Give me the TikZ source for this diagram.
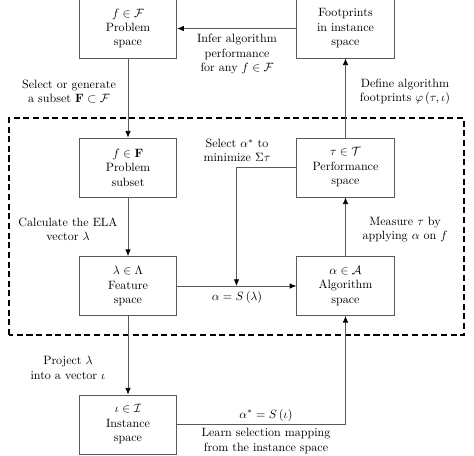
\documentclass[tikz,border=0pt]{standalone}
\usepackage{amsmath}
\usepackage{tikz}
\usetikzlibrary{arrows.meta}

\tikzset{
    box/.style={draw=black!65, line width=0.6pt, align=center, minimum width=81pt, minimum height=49pt, inner sep=1pt},
    arr/.style={draw=black!65, line width=0.6pt, -{Latex[length=5.5pt, width=4.5pt, color=black]}},
    lbl/.style={align=center, inner sep=1pt}
}

\begin{document}
\begin{tikzpicture}[x=0.83pt, y=0.83pt]

    \useasboundingbox (0,0) rectangle (474,455);

    % boxes
    \node[box] (prob) at (128,426.5) {$f\in\mathcal{F}$\\Problem\\space};
    \node[box] (foot) at (345.5,426.5) {Footprints\\in instance\\space};
    \node[box] (sub)  at (128,287.5) {$f\in\mathbf{F}$\\Problem\\subset};
    \node[box] (perf) at (345.5,287.5) {$\tau\in\mathcal{T}$\\Performance\\space};
    \node[box] (feat) at (128,169) {$\lambda\in\Lambda$\\Feature\\space};
    \node[box] (alg)  at (345.5,169) {$\alpha\in\mathcal{A}$\\Algorithm\\space};
    \node[box] (inst) at (128,30.5) {$\iota\in\mathcal{I}$\\Instance\\space};

    % dashed frame
    \draw[line width=1.3pt, dash pattern=on 5pt off 3pt] (9,120) rectangle (464,337);

    \coordinate (mid) at (236.5,169);

    % connectors
    \draw[arr] (foot) -- (prob);
    \draw[arr] (prob) -- (sub);
    \draw[arr] (perf) -- (foot);
    \draw[arr] (sub) -- (feat);
    \draw[arr] (feat) -- (alg);
    \draw[arr] (perf.west) -| (mid);
    \draw[arr] (alg) -- (perf);
    \draw[arr] (feat) -- (inst);
    \draw[arr] (inst.east) -| (alg.south);

    % labels
    \node[lbl] (infer)  at (237,401) {Infer algorithm\\performance\\for any $f\in\mathcal{F}$};
    \node[lbl] (select) at (69,363.5) {Select or generate\\a subset $\mathbf{F}\subset\mathcal{F}$};
    \node[lbl] (define) at (405,363.5) {Define algorithm\\footprints $\varphi\left(\tau,\iota\right)$};
    \node[lbl] (minim)  at (237,304.5) {Select $\alpha^{*}$ to\\minimize $\Sigma\tau$};
    \node[lbl] (ela)    at (68,225.5) {Calculate the ELA\\vector $\lambda$};
    \node[lbl] (meas)   at (405,225.5) {Measure $\tau$ by\\applying $\alpha$ on $f$};
    \node[lbl] (sel)    at (237,158) {$\alpha=S\left(\lambda\right)$};
    \node[lbl] (proj)   at (68,87) {Project $\lambda$\\into a vector $\iota$};
    \node[lbl] (map)    at (266,40) {$\alpha^{*}=S\left(\iota\right)$};
    \node[lbl] (learn)  at (266,14) {Learn selection mapping\\from the instance space};

\end{tikzpicture}
\end{document}
